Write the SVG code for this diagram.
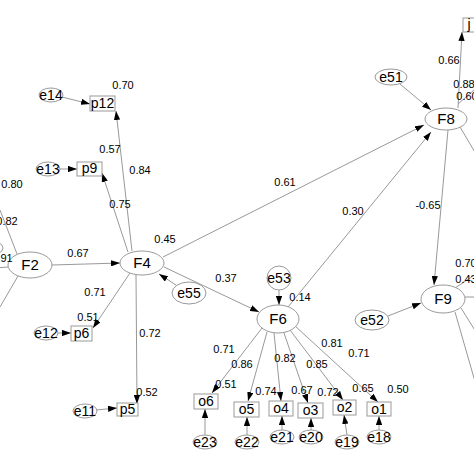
<svg xmlns="http://www.w3.org/2000/svg" width="474" height="474" viewBox="0 0 474 474">
<defs>
<marker id="ah" viewBox="0 0 10 7" markerWidth="9" markerHeight="6.3" refX="10" refY="3.5" orient="auto" markerUnits="userSpaceOnUse"><path d="M0,0 L10,3.5 L0,7 z" fill="#000"/></marker>
<style>
.n ellipse,.n rect{fill:#fff;stroke:#999;stroke-width:1}
.n text{font-family:"Liberation Sans",Arial,sans-serif;font-size:14px;fill:#000;text-anchor:middle}
.n text.big{font-size:15px}
#edges line{stroke:#999;stroke-width:1;fill:none}
#edges line.a{marker-end:url(#ah)}
.lb text{font-family:"Liberation Sans",Arial,sans-serif;font-size:11px;fill:#000;text-anchor:middle}
</style>
</defs>
<rect width="474" height="474" fill="#fff"/>
<g id="edges">
<line x1="17" y1="254" x2="0" y2="210"/>
<line x1="8" y1="267" x2="-5" y2="268"/>
<line x1="18" y1="276" x2="0" y2="307"/>
<line class="a" x1="52" y1="265" x2="120" y2="263"/>
<line class="a" x1="132" y1="251" x2="116" y2="111"/>
<line class="a" x1="128" y1="252" x2="102" y2="173"/>
<line class="a" x1="130" y1="273" x2="93" y2="328"/>
<line class="a" x1="136" y1="275" x2="137" y2="404"/>
<line class="a" x1="62" y1="97" x2="90" y2="104"/>
<line class="a" x1="60" y1="169" x2="77" y2="169"/>
<line class="a" x1="58" y1="333" x2="71" y2="333"/>
<line class="a" x1="96" y1="410" x2="117" y2="408"/>
<line class="a" x1="176" y1="285" x2="159" y2="274"/>
<line class="a" x1="164" y1="267" x2="259" y2="312"/>
<line class="a" x1="163" y1="257" x2="424" y2="125"/>
<line class="a" x1="288" y1="307" x2="431" y2="132"/>
<line class="a" x1="279" y1="290" x2="279" y2="305"/>
<line class="a" x1="262" y1="328" x2="212" y2="393"/>
<line class="a" x1="267" y1="332" x2="248" y2="401"/>
<line class="a" x1="274" y1="333" x2="281" y2="401"/>
<line class="a" x1="284" y1="333" x2="308" y2="403"/>
<line class="a" x1="290" y1="330" x2="343" y2="400"/>
<line class="a" x1="295" y1="326" x2="378" y2="402"/>
<line class="a" x1="205" y1="435" x2="205" y2="409"/>
<line class="a" x1="247" y1="435" x2="247" y2="417"/>
<line class="a" x1="282" y1="430" x2="282" y2="416"/>
<line class="a" x1="311" y1="430" x2="311" y2="418"/>
<line class="a" x1="347" y1="435" x2="344" y2="415"/>
<line class="a" x1="379" y1="430" x2="379" y2="416"/>
<line class="a" x1="400" y1="84" x2="431" y2="110"/>
<line class="a" x1="458" y1="108" x2="462" y2="32"/>
<line x1="458" y1="104" x2="474" y2="90"/>
<line x1="460" y1="127" x2="476" y2="154"/>
<line class="a" x1="448" y1="130" x2="434" y2="285"/>
<line class="a" x1="388" y1="316" x2="421" y2="303"/>
<line x1="455" y1="288" x2="476" y2="274"/>
<line x1="465" y1="297" x2="476" y2="297"/>
<line x1="461" y1="308" x2="476" y2="332"/>
<line x1="455" y1="312" x2="478" y2="392"/>
</g>
<g id="F2" class="n"><ellipse cx="30" cy="265" rx="22" ry="13"/><text class="big" x="30" y="270">F2</text></g>
<g id="Lx" class="n"><ellipse cx="-13" cy="248" rx="16" ry="8"/></g>
<g id="F4" class="n"><ellipse cx="142" cy="263" rx="22" ry="12"/><text class="big" x="142" y="268">F4</text></g>
<g id="F6" class="n"><ellipse cx="278" cy="319" rx="21" ry="14"/><text class="big" x="278" y="324">F6</text></g>
<g id="F8" class="n"><ellipse cx="446" cy="119" rx="21" ry="11"/><text class="big" x="446" y="124">F8</text></g>
<g id="F9" class="n"><ellipse cx="443" cy="299" rx="22" ry="14"/><text class="big" x="443" y="304">F9</text></g>
<g id="e55" class="n"><ellipse cx="189" cy="293" rx="17" ry="11"/><text x="189" y="298">e55</text></g>
<g id="e53" class="n"><ellipse cx="279" cy="278" rx="12" ry="12"/><text x="279" y="283">e53</text></g>
<g id="e51" class="n"><ellipse cx="391" cy="77" rx="16" ry="8"/><text x="391" y="82">e51</text></g>
<g id="e52" class="n"><ellipse cx="372" cy="320" rx="17" ry="10"/><text x="372" y="325">e52</text></g>
<g id="e14" class="n"><ellipse cx="51" cy="95" rx="12" ry="7"/><text x="51" y="100">e14</text></g>
<g id="e13" class="n"><ellipse cx="48" cy="169" rx="12" ry="7"/><text x="48" y="174">e13</text></g>
<g id="e12" class="n"><ellipse cx="46" cy="333" rx="12" ry="7"/><text x="46" y="338">e12</text></g>
<g id="e11" class="n"><ellipse cx="85" cy="411" rx="12" ry="7"/><text x="85" y="416">e11</text></g>
<g id="e23" class="n"><ellipse cx="205" cy="442" rx="12" ry="7"/><text x="205" y="447">e23</text></g>
<g id="e22" class="n"><ellipse cx="247" cy="442" rx="12" ry="7"/><text x="247" y="447">e22</text></g>
<g id="e21" class="n"><ellipse cx="282" cy="437" rx="12" ry="7"/><text x="282" y="442">e21</text></g>
<g id="e20" class="n"><ellipse cx="311" cy="437" rx="12" ry="7"/><text x="311" y="442">e20</text></g>
<g id="e19" class="n"><ellipse cx="347" cy="442" rx="12" ry="7"/><text x="347" y="447">e19</text></g>
<g id="e18" class="n"><ellipse cx="379" cy="437" rx="12" ry="7"/><text x="379" y="442">e18</text></g>
<g id="p12" class="n"><rect x="90" y="96" width="25" height="15"/><text x="102.5" y="108">p12</text></g>
<g id="p9" class="n"><rect x="77" y="162" width="25" height="14"/><text x="89.5" y="173">p9</text></g>
<g id="p6" class="n"><rect x="71" y="326" width="21" height="15"/><text x="81.5" y="338">p6</text></g>
<g id="p5" class="n"><rect x="117" y="403" width="21" height="13"/><text x="127.5" y="414">p5</text></g>
<g id="o6" class="n"><rect x="194" y="394" width="24" height="15"/><text x="206" y="406">o6</text></g>
<g id="o5" class="n"><rect x="234" y="402" width="25" height="15"/><text x="246.5" y="414">o5</text></g>
<g id="o4" class="n"><rect x="269" y="401" width="24" height="15"/><text x="281" y="413">o4</text></g>
<g id="o3" class="n"><rect x="298" y="403" width="25" height="15"/><text x="310.5" y="415">o3</text></g>
<g id="o2" class="n"><rect x="333" y="400" width="23" height="15"/><text x="344.5" y="412">o2</text></g>
<g id="o1" class="n"><rect x="367" y="402" width="24" height="14"/><text x="379" y="414">o1</text></g>
<g id="j" class="n"><rect x="463" y="18" width="30" height="14"/><text x="469" y="29">j</text></g>
<g class="lb">
<text x="12" y="188">0.80</text>
<text x="7" y="225">0.82</text>
<text x="2" y="262">0.91</text>
<text x="78" y="257">0.67</text>
<text x="123" y="89">0.70</text>
<text x="110" y="153">0.57</text>
<text x="140" y="174">0.84</text>
<text x="120" y="208">0.75</text>
<text x="165" y="243">0.45</text>
<text x="95" y="296">0.71</text>
<text x="88" y="321">0.51</text>
<text x="150" y="337">0.72</text>
<text x="147" y="396">0.52</text>
<text x="226" y="282">0.37</text>
<text x="285" y="186">0.61</text>
<text x="353" y="215">0.30</text>
<text x="300" y="301">0.14</text>
<text x="224" y="353">0.71</text>
<text x="242" y="368">0.86</text>
<text x="285" y="362">0.82</text>
<text x="317" y="368">0.85</text>
<text x="332" y="347">0.81</text>
<text x="359" y="357">0.71</text>
<text x="226" y="388">0.51</text>
<text x="266" y="395">0.74</text>
<text x="302" y="394">0.67</text>
<text x="328" y="396">0.72</text>
<text x="363" y="392">0.65</text>
<text x="398" y="393">0.50</text>
<text x="449" y="64">0.66</text>
<text x="464" y="88">0.88</text>
<text x="467" y="100">0.60</text>
<text x="428" y="209">-0.65</text>
<text x="466" y="267">0.70</text>
<text x="466" y="283">0.43</text>
</g>
</svg>
